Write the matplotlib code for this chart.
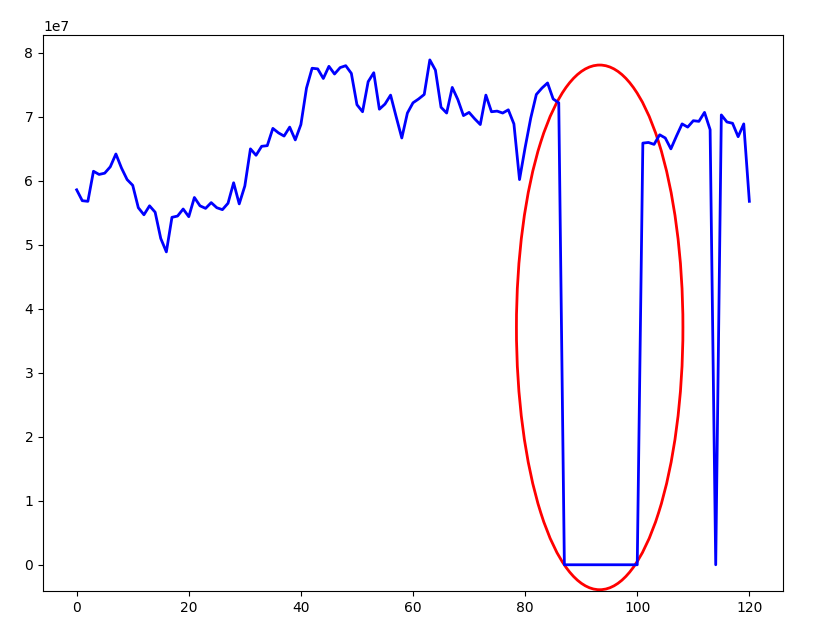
import numpy as np
import matplotlib
matplotlib.use('Agg')
import matplotlib.pyplot as plt
from matplotlib.patches import Ellipse

# ─── DATA (values in units of 1e7) ────────────────────────────────────────────
values_1e7 = [
    5.86, 5.69, 5.68, 6.15, 6.10, 6.12, 6.22, 6.42, 6.20, 6.02,
    5.93, 5.58, 5.47, 5.61, 5.51, 5.10, 4.89, 5.43, 5.45, 5.56,
    5.44, 5.74, 5.61, 5.57, 5.66, 5.58, 5.55, 5.65, 5.97, 5.64,
    5.92, 6.50, 6.40, 6.54, 6.55, 6.82, 6.75, 6.70, 6.84, 6.64,
    6.88, 7.45, 7.76, 7.75, 7.60, 7.79, 7.67, 7.77, 7.80, 7.68,
    7.19, 7.08, 7.55, 7.69, 7.12, 7.20, 7.34, 7.00, 6.67, 7.06,
    7.22, 7.28, 7.35, 7.89, 7.73, 7.15, 7.06, 7.46, 7.27, 7.02,
    7.07, 6.97, 6.88, 7.34, 7.08, 7.09, 7.06, 7.11, 6.89, 6.02,
    6.52, 6.98, 7.35, 7.45, 7.53, 7.28, 7.22, 0.00, 0.00, 0.00,
    0.00, 0.00, 0.00, 0.00, 0.00, 0.00, 0.00, 0.00, 0.00, 0.00,
    0.00, 6.59, 6.60, 6.57, 6.72, 6.67, 6.50, 6.70, 6.89, 6.84,
    6.94, 6.93, 7.07, 6.80, 0.00, 7.03, 6.92, 6.90, 6.69, 6.89,
    5.68,
]
values = np.array(values_1e7) * 1e7
index = np.arange(len(values))

# highlighted gap (center, width, height in data units)
gap_center = (93.3, 3.71e7)
gap_width = 29.7
gap_height = 8.2e7

# ─── PLOT ─────────────────────────────────────────────────────────────────────
fig = plt.figure(figsize=(8.29, 6.44), dpi=100)
ax = fig.add_axes([0.0519, 0.0823, 0.8926, 0.8634])

ax.plot(index, values, color='blue', linewidth=2)
ax.add_patch(Ellipse(gap_center, gap_width, gap_height,
                     fill=False, edgecolor='red', linewidth=2))

ax.set_xlim(-6, 126)
ax.set_ylim(-0.41e7, 8.28e7)

plt.savefig("out.png", dpi=100)
plt.close()
